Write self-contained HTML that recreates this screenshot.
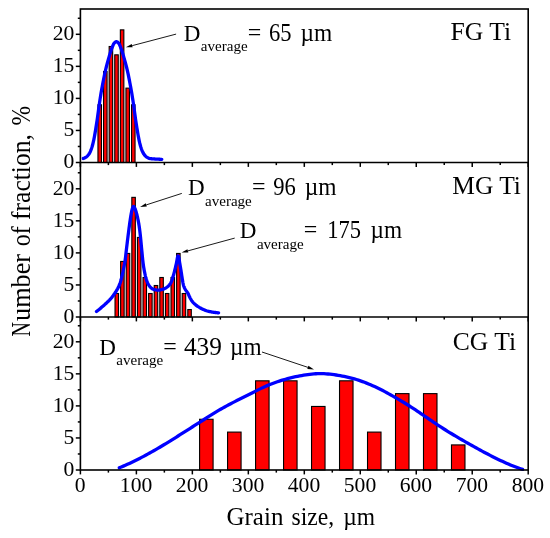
<!DOCTYPE html>
<html lang="en">
<head>
<meta charset="utf-8">
<title>Grain size distribution</title>
<style>html,body{margin:0;padding:0;background:#fff}svg text{white-space:pre}</style>
</head>
<body>
<svg width="550" height="538" viewBox="0 0 550 538" style="display:block">
<rect x="0" y="0" width="550" height="538" fill="#ffffff"/>
<g fill="#ff0000" stroke="#000" stroke-width="1.1">
<rect x="97.96" y="104.78" width="3.50" height="57.72"/>
<rect x="103.56" y="71.48" width="3.50" height="91.02"/>
<rect x="109.16" y="46.50" width="3.50" height="116.00"/>
<rect x="114.75" y="54.83" width="3.50" height="107.67"/>
<rect x="120.35" y="29.86" width="3.50" height="132.64"/>
<rect x="125.95" y="88.13" width="3.50" height="74.37"/>
<rect x="131.55" y="104.78" width="3.50" height="57.72"/>
</g>
<g fill="#ff0000" stroke="#000" stroke-width="1.1">
<rect x="115.03" y="293.51" width="3.50" height="23.49"/>
<rect x="120.63" y="261.46" width="3.50" height="55.54"/>
<rect x="126.23" y="253.45" width="3.50" height="63.55"/>
<rect x="131.83" y="197.36" width="3.50" height="119.64"/>
<rect x="137.42" y="237.43" width="3.50" height="79.58"/>
<rect x="143.02" y="277.49" width="3.50" height="39.51"/>
<rect x="148.62" y="293.51" width="3.50" height="23.49"/>
<rect x="154.22" y="285.50" width="3.50" height="31.50"/>
<rect x="159.81" y="277.49" width="3.50" height="39.51"/>
<rect x="165.41" y="293.51" width="3.50" height="23.49"/>
<rect x="171.01" y="277.49" width="3.50" height="39.51"/>
<rect x="176.61" y="253.45" width="3.50" height="63.55"/>
<rect x="182.20" y="293.51" width="3.50" height="23.49"/>
<rect x="187.80" y="309.54" width="3.50" height="7.46"/>
</g>
<g fill="#ff0000" stroke="#000" stroke-width="1.1">
<rect x="199.59" y="419.27" width="13.50" height="50.73"/>
<rect x="227.58" y="432.09" width="13.50" height="37.91"/>
<rect x="255.57" y="380.81" width="13.50" height="89.19"/>
<rect x="283.56" y="380.81" width="13.50" height="89.19"/>
<rect x="311.54" y="406.45" width="13.50" height="63.55"/>
<rect x="339.53" y="380.81" width="13.50" height="89.19"/>
<rect x="367.52" y="432.09" width="13.50" height="37.91"/>
<rect x="395.51" y="393.63" width="13.50" height="76.37"/>
<rect x="423.49" y="393.63" width="13.50" height="76.37"/>
<rect x="451.48" y="444.91" width="13.50" height="25.09"/>
</g>
<path d="M83.30,158.44 L83.69,158.32 L84.09,158.16 L84.48,157.98 L84.88,157.78 L85.27,157.56 L85.67,157.32 L86.06,157.08 L86.46,156.79 L86.85,156.47 L87.24,156.11 L87.64,155.71 L88.03,155.27 L88.43,154.79 L88.82,154.27 L89.22,153.69 L89.61,153.00 L90.01,152.21 L90.40,151.33 L90.79,150.39 L91.19,149.39 L91.58,148.29 L91.98,147.06 L92.37,145.71 L92.77,144.25 L93.16,142.70 L93.56,140.97 L93.95,139.07 L94.35,137.04 L94.74,134.90 L95.13,132.60 L95.53,130.19 L95.92,127.74 L96.32,125.28 L96.71,122.76 L97.11,120.15 L97.50,117.40 L97.90,114.55 L98.29,111.66 L98.68,108.82 L99.08,106.07 L99.47,103.31 L99.87,100.60 L100.26,97.97 L100.66,95.46 L101.05,93.10 L101.45,90.83 L101.84,88.65 L102.23,86.52 L102.63,84.43 L103.02,82.35 L103.42,80.28 L103.81,78.24 L104.21,76.24 L104.60,74.32 L105.00,72.48 L105.39,70.75 L105.78,69.09 L106.18,67.49 L106.57,65.94 L106.97,64.43 L107.36,62.96 L107.76,61.53 L108.15,60.13 L108.55,58.74 L108.94,57.35 L109.34,55.99 L109.73,54.66 L110.12,53.35 L110.52,52.10 L110.91,50.89 L111.31,49.74 L111.70,48.66 L112.10,47.62 L112.49,46.57 L112.89,45.55 L113.28,44.64 L113.67,43.87 L114.07,43.31 L114.46,42.89 L114.86,42.51 L115.25,42.17 L115.65,41.90 L116.04,41.73 L116.44,41.67 L116.83,41.75 L117.22,41.94 L117.62,42.22 L118.01,42.57 L118.41,42.97 L118.80,43.39 L119.20,43.99 L119.59,44.79 L119.99,45.73 L120.38,46.76 L120.77,47.81 L121.17,48.85 L121.56,49.94 L121.96,51.10 L122.35,52.32 L122.75,53.59 L123.14,54.90 L123.54,56.24 L123.93,57.60 L124.33,58.99 L124.72,60.38 L125.11,61.79 L125.51,63.23 L125.90,64.70 L126.30,66.21 L126.69,67.77 L127.09,69.39 L127.48,71.06 L127.88,72.81 L128.27,74.66 L128.66,76.60 L129.06,78.60 L129.45,80.65 L129.85,82.73 L130.24,84.81 L130.64,86.90 L131.03,89.04 L131.43,91.24 L131.82,93.52 L132.21,95.90 L132.61,98.43 L133.00,101.08 L133.40,103.81 L133.79,106.57 L134.19,109.33 L134.58,112.18 L134.98,115.07 L135.37,117.91 L135.76,120.63 L136.16,123.22 L136.55,125.73 L136.95,128.18 L137.34,130.63 L137.74,133.03 L138.13,135.30 L138.53,137.41 L138.92,139.42 L139.32,141.30 L139.71,142.99 L140.10,144.52 L140.50,145.96 L140.89,147.29 L141.29,148.50 L141.68,149.57 L142.08,150.56 L142.47,151.50 L142.87,152.36 L143.26,153.13 L143.65,153.80 L144.05,154.37 L144.44,154.88 L144.84,155.35 L145.23,155.78 L145.63,156.18 L146.02,156.53 L146.42,156.85 L146.81,157.12 L147.20,157.37 L147.60,157.60 L147.99,157.82 L148.39,158.02 L148.78,158.19 L149.18,158.34 L149.57,158.46 L149.97,158.54 L150.36,158.60 L150.75,158.66 L151.15,158.71 L151.54,158.75 L151.94,158.79 L152.33,158.83 L152.73,158.86 L153.12,158.89 L153.52,158.92 L153.91,158.94 L154.31,158.97 L154.70,158.99 L155.09,159.02 L155.49,159.04 L155.88,159.07 L156.28,159.09 L156.67,159.11 L157.07,159.13 L157.46,159.15 L157.86,159.17 L158.25,159.19 L158.64,159.21 L159.04,159.23 L159.43,159.24 L159.83,159.25 L160.22,159.27 L160.62,159.28 L161.01,159.28 L161.41,159.29 L161.80,159.29" fill="none" stroke="#0000ff" stroke-width="3.3" stroke-linecap="round" stroke-linejoin="round"/>
<path d="M96.50,311.50 L97.15,310.99 L97.79,310.48 L98.44,309.96 L99.08,309.45 L99.71,308.92 L100.34,308.40 L100.98,307.87 L101.60,307.34 L102.23,306.80 L102.85,306.26 L103.47,305.72 L104.09,305.18 L104.70,304.63 L105.31,304.07 L105.92,303.51 L106.52,302.96 L107.13,302.39 L107.73,301.83 L108.33,301.26 L108.91,300.68 L109.49,300.09 L110.05,299.49 L110.59,298.88 L111.13,298.25 L111.65,297.62 L112.16,296.97 L112.66,296.32 L113.16,295.65 L113.64,294.98 L114.12,294.31 L114.58,293.63 L115.04,292.95 L115.49,292.26 L115.94,291.57 L116.38,290.87 L116.81,290.16 L117.23,289.45 L117.63,288.73 L118.00,288.00 L118.36,287.26 L118.71,286.52 L119.04,285.77 L119.36,285.00 L119.67,284.24 L119.97,283.46 L120.25,282.69 L120.50,281.91 L120.74,281.12 L120.97,280.34 L121.18,279.54 L121.38,278.74 L121.58,277.94 L121.76,277.14 L121.95,276.33 L122.13,275.53 L122.31,274.72 L122.49,273.92 L122.66,273.11 L122.84,272.31 L123.01,271.50 L123.18,270.70 L123.35,269.89 L123.51,269.09 L123.67,268.28 L123.83,267.47 L123.98,266.66 L124.14,265.85 L124.30,265.04 L124.45,264.23 L124.60,263.42 L124.75,262.61 L124.89,261.80 L125.02,260.99 L125.14,260.18 L125.26,259.36 L125.37,258.55 L125.48,257.73 L125.58,256.91 L125.67,256.10 L125.76,255.28 L125.85,254.46 L125.94,253.64 L126.04,252.82 L126.13,252.00 L126.22,251.18 L126.32,250.37 L126.41,249.55 L126.51,248.73 L126.61,247.91 L126.70,247.10 L126.80,246.28 L126.90,245.46 L127.00,244.64 L127.10,243.83 L127.19,243.01 L127.29,242.19 L127.39,241.37 L127.49,240.56 L127.59,239.74 L127.69,238.92 L127.80,238.11 L127.90,237.29 L128.00,236.47 L128.10,235.65 L128.21,234.84 L128.31,234.02 L128.42,233.20 L128.52,232.39 L128.63,231.57 L128.73,230.75 L128.84,229.94 L128.94,229.12 L129.05,228.30 L129.15,227.49 L129.26,226.67 L129.37,225.86 L129.48,225.04 L129.59,224.22 L129.70,223.41 L129.81,222.59 L129.93,221.78 L130.05,220.96 L130.17,220.15 L130.29,219.33 L130.41,218.52 L130.54,217.70 L130.67,216.89 L130.80,216.08 L130.94,215.27 L131.08,214.46 L131.23,213.65 L131.39,212.84 L131.54,212.02 L131.70,211.20 L131.88,210.39 L132.07,209.59 L132.30,208.80 L132.56,208.04 L132.94,207.12 L133.40,206.45 L133.88,206.61 L134.39,207.40 L134.80,208.20 L135.13,208.95 L135.43,209.72 L135.69,210.51 L135.94,211.30 L136.18,212.09 L136.40,212.88 L136.62,213.67 L136.83,214.47 L137.04,215.27 L137.23,216.07 L137.42,216.87 L137.60,217.68 L137.77,218.48 L137.94,219.29 L138.10,220.10 L138.26,220.90 L138.41,221.71 L138.56,222.52 L138.70,223.33 L138.84,224.15 L138.97,224.96 L139.10,225.77 L139.22,226.59 L139.34,227.40 L139.46,228.22 L139.57,229.03 L139.68,229.85 L139.78,230.66 L139.88,231.48 L139.98,232.30 L140.07,233.12 L140.17,233.94 L140.26,234.75 L140.34,235.57 L140.43,236.39 L140.52,237.21 L140.60,238.03 L140.69,238.85 L140.77,239.67 L140.85,240.49 L140.93,241.31 L141.01,242.13 L141.08,242.95 L141.16,243.77 L141.23,244.59 L141.31,245.41 L141.39,246.23 L141.46,247.05 L141.54,247.87 L141.62,248.69 L141.70,249.51 L141.78,250.32 L141.86,251.14 L141.94,251.96 L142.02,252.78 L142.10,253.60 L142.18,254.42 L142.26,255.24 L142.34,256.06 L142.42,256.88 L142.50,257.70 L142.58,258.52 L142.67,259.34 L142.76,260.16 L142.85,260.98 L142.95,261.79 L143.05,262.61 L143.15,263.43 L143.26,264.24 L143.37,265.06 L143.49,265.87 L143.61,266.69 L143.74,267.50 L143.88,268.32 L144.02,269.13 L144.16,269.94 L144.31,270.75 L144.47,271.56 L144.63,272.36 L144.80,273.17 L144.97,273.97 L145.15,274.78 L145.33,275.59 L145.53,276.40 L145.73,277.20 L145.95,278.00 L146.17,278.80 L146.41,279.58 L146.67,280.35 L146.94,281.12 L147.24,281.88 L147.57,282.66 L147.92,283.43 L148.31,284.19 L148.72,284.92 L149.16,285.61 L149.62,286.26 L150.12,286.86 L150.69,287.46 L151.33,288.05 L152.01,288.59 L152.73,289.04 L153.45,289.36 L154.20,289.56 L155.00,289.74 L155.82,289.90 L156.66,290.02 L157.50,290.09 L158.32,290.09 L159.14,290.04 L159.96,289.92 L160.79,289.76 L161.60,289.57 L162.40,289.36 L163.18,289.14 L163.94,288.88 L164.70,288.55 L165.44,288.16 L166.17,287.72 L166.86,287.24 L167.51,286.75 L168.12,286.24 L168.72,285.67 L169.30,285.05 L169.84,284.40 L170.32,283.72 L170.74,283.04 L171.09,282.33 L171.42,281.58 L171.72,280.82 L172.00,280.03 L172.27,279.23 L172.52,278.43 L172.76,277.64 L173.01,276.85 L173.24,276.06 L173.47,275.27 L173.69,274.48 L173.90,273.68 L174.11,272.88 L174.31,272.09 L174.51,271.29 L174.71,270.49 L174.90,269.69 L175.10,268.89 L175.29,268.09 L175.49,267.29 L175.68,266.48 L175.86,265.68 L176.04,264.88 L176.22,264.07 L176.40,263.27 L176.57,262.46 L176.72,261.66 L176.86,260.84 L177.00,260.03 L177.14,259.21 L177.29,258.41 L177.47,257.61 L177.71,256.66 L178.00,255.87 L178.32,256.06 L178.66,256.99 L178.88,257.85 L179.05,258.65 L179.19,259.46 L179.30,260.28 L179.42,261.10 L179.54,261.92 L179.67,262.73 L179.81,263.54 L179.95,264.36 L180.09,265.17 L180.23,265.98 L180.36,266.79 L180.50,267.60 L180.64,268.41 L180.78,269.23 L180.91,270.04 L181.04,270.85 L181.17,271.66 L181.30,272.48 L181.42,273.29 L181.54,274.11 L181.66,274.92 L181.78,275.74 L181.90,276.55 L182.03,277.36 L182.16,278.18 L182.30,278.99 L182.44,279.80 L182.57,280.62 L182.71,281.44 L182.85,282.25 L183.00,283.07 L183.17,283.87 L183.35,284.67 L183.56,285.46 L183.80,286.23 L184.10,287.00 L184.44,287.76 L184.81,288.50 L185.20,289.23 L185.60,289.94 L186.05,290.63 L186.54,291.30 L187.04,291.96 L187.52,292.63 L187.96,293.33 L188.33,294.05 L188.67,294.80 L188.99,295.56 L189.31,296.33 L189.64,297.08 L190.01,297.82 L190.40,298.54 L190.82,299.26 L191.25,299.97 L191.70,300.67 L192.18,301.34 L192.68,301.98 L193.21,302.58 L193.79,303.17 L194.39,303.74 L195.02,304.29 L195.66,304.83 L196.31,305.33 L196.97,305.82 L197.63,306.29 L198.32,306.75 L199.02,307.20 L199.73,307.63 L200.45,308.04 L201.17,308.44 L201.91,308.81 L202.64,309.16 L203.39,309.50 L204.15,309.84 L204.91,310.16 L205.69,310.45 L206.46,310.73 L207.25,310.97 L208.04,311.19 L208.83,311.38 L209.64,311.56 L210.44,311.72 L211.26,311.87 L212.07,312.02 L212.89,312.15 L213.70,312.28 L214.51,312.40 L215.33,312.51 L216.14,312.62 L216.96,312.72 L217.78,312.82 L218.60,312.90" fill="none" stroke="#0000ff" stroke-width="3.3" stroke-linecap="round" stroke-linejoin="round"/>
<path d="M119.30,467.80 L121.33,466.97 L123.35,466.11 L125.38,465.24 L127.41,464.33 L129.43,463.41 L131.46,462.46 L133.49,461.49 L135.51,460.50 L137.54,459.49 L139.57,458.46 L141.59,457.41 L143.62,456.34 L145.65,455.25 L147.67,454.15 L149.70,453.03 L151.73,451.90 L153.75,450.75 L155.78,449.58 L157.81,448.40 L159.83,447.21 L161.86,446.00 L163.89,444.79 L165.91,443.56 L167.94,442.32 L169.97,441.07 L171.99,439.81 L174.02,438.55 L176.05,437.28 L178.07,436.00 L180.10,434.72 L182.13,433.44 L184.15,432.15 L186.18,430.86 L188.21,429.57 L190.23,428.28 L192.26,426.99 L194.29,425.70 L196.31,424.40 L198.34,423.11 L200.37,421.83 L202.39,420.54 L204.42,419.25 L206.45,417.97 L208.47,416.69 L210.50,415.42 L212.53,414.16 L214.55,412.91 L216.58,411.68 L218.61,410.46 L220.63,409.27 L222.66,408.10 L224.68,406.95 L226.71,405.84 L228.74,404.74 L230.76,403.68 L232.79,402.63 L234.82,401.60 L236.84,400.57 L238.87,399.56 L240.90,398.55 L242.92,397.54 L244.95,396.53 L246.98,395.51 L249.00,394.48 L251.03,393.45 L253.06,392.41 L255.08,391.39 L257.11,390.37 L259.14,389.37 L261.16,388.39 L263.19,387.44 L265.22,386.51 L267.24,385.62 L269.27,384.77 L271.30,383.96 L273.32,383.19 L275.35,382.45 L277.38,381.74 L279.40,381.07 L281.43,380.43 L283.46,379.82 L285.48,379.24 L287.51,378.68 L289.54,378.15 L291.56,377.65 L293.59,377.17 L295.62,376.72 L297.64,376.29 L299.67,375.90 L301.70,375.52 L303.72,375.18 L305.75,374.86 L307.78,374.57 L309.80,374.31 L311.83,374.08 L313.86,373.89 L315.88,373.74 L317.91,373.64 L319.94,373.59 L321.96,373.61 L323.99,373.68 L326.02,373.81 L328.04,373.99 L330.07,374.20 L332.10,374.44 L334.12,374.71 L336.15,375.00 L338.18,375.31 L340.20,375.65 L342.23,376.02 L344.26,376.42 L346.28,376.85 L348.31,377.32 L350.34,377.82 L352.36,378.35 L354.39,378.92 L356.42,379.53 L358.44,380.17 L360.47,380.85 L362.50,381.57 L364.52,382.32 L366.55,383.10 L368.58,383.92 L370.60,384.78 L372.63,385.67 L374.66,386.59 L376.68,387.55 L378.71,388.53 L380.74,389.54 L382.76,390.58 L384.79,391.65 L386.82,392.73 L388.84,393.84 L390.87,394.96 L392.90,396.10 L394.92,397.25 L396.95,398.42 L398.98,399.60 L401.00,400.80 L403.03,402.02 L405.06,403.25 L407.08,404.50 L409.11,405.76 L411.14,407.05 L413.16,408.36 L415.19,409.69 L417.22,411.04 L419.24,412.40 L421.27,413.78 L423.29,415.17 L425.32,416.56 L427.35,417.96 L429.37,419.35 L431.40,420.73 L433.43,422.11 L435.45,423.47 L437.48,424.81 L439.51,426.14 L441.53,427.45 L443.56,428.74 L445.59,430.02 L447.61,431.28 L449.64,432.53 L451.67,433.76 L453.69,434.99 L455.72,436.20 L457.75,437.40 L459.77,438.59 L461.80,439.77 L463.83,440.94 L465.85,442.10 L467.88,443.25 L469.91,444.39 L471.93,445.53 L473.96,446.66 L475.99,447.78 L478.01,448.89 L480.04,450.00 L482.07,451.10 L484.09,452.19 L486.12,453.26 L488.15,454.33 L490.17,455.38 L492.20,456.42 L494.23,457.45 L496.25,458.45 L498.28,459.44 L500.31,460.41 L502.33,461.35 L504.36,462.28 L506.39,463.18 L508.41,464.06 L510.44,464.91 L512.47,465.73 L514.49,466.53 L516.52,467.29 L518.55,468.03 L520.57,468.73 L522.60,469.40" fill="none" stroke="#0000ff" stroke-width="3.3" stroke-linecap="round" stroke-linejoin="round"/>
<g stroke="#000" stroke-width="1.6" fill="none" stroke-linecap="butt">
<rect x="80.4" y="9.0" width="447.80000000000007" height="461.0"/>
<line x1="80.4" y1="162.5" x2="528.2" y2="162.5"/>
<line x1="80.4" y1="317.0" x2="528.2" y2="317.0"/>
</g>
<g stroke="#000" stroke-width="1.5">
<line x1="75.80" y1="162.50" x2="80.4" y2="162.50"/>
<line x1="77.80" y1="146.47" x2="80.4" y2="146.47"/>
<line x1="75.80" y1="130.45" x2="80.4" y2="130.45"/>
<line x1="77.80" y1="114.42" x2="80.4" y2="114.42"/>
<line x1="75.80" y1="98.40" x2="80.4" y2="98.40"/>
<line x1="77.80" y1="82.38" x2="80.4" y2="82.38"/>
<line x1="75.80" y1="66.35" x2="80.4" y2="66.35"/>
<line x1="77.80" y1="50.33" x2="80.4" y2="50.33"/>
<line x1="75.80" y1="34.30" x2="80.4" y2="34.30"/>
<line x1="77.80" y1="18.28" x2="80.4" y2="18.28"/>
<line x1="80.40" y1="162.5" x2="80.40" y2="166.90"/>
<line x1="108.39" y1="162.5" x2="108.39" y2="165.10"/>
<line x1="136.38" y1="162.5" x2="136.38" y2="166.90"/>
<line x1="164.36" y1="162.5" x2="164.36" y2="165.10"/>
<line x1="192.35" y1="162.5" x2="192.35" y2="166.90"/>
<line x1="220.34" y1="162.5" x2="220.34" y2="165.10"/>
<line x1="248.33" y1="162.5" x2="248.33" y2="166.90"/>
<line x1="276.31" y1="162.5" x2="276.31" y2="165.10"/>
<line x1="304.30" y1="162.5" x2="304.30" y2="166.90"/>
<line x1="332.29" y1="162.5" x2="332.29" y2="165.10"/>
<line x1="360.28" y1="162.5" x2="360.28" y2="166.90"/>
<line x1="388.26" y1="162.5" x2="388.26" y2="165.10"/>
<line x1="416.25" y1="162.5" x2="416.25" y2="166.90"/>
<line x1="444.24" y1="162.5" x2="444.24" y2="165.10"/>
<line x1="472.23" y1="162.5" x2="472.23" y2="166.90"/>
<line x1="500.21" y1="162.5" x2="500.21" y2="165.10"/>
<line x1="528.20" y1="162.5" x2="528.20" y2="166.90"/>
<line x1="75.80" y1="317.00" x2="80.4" y2="317.00"/>
<line x1="77.80" y1="300.98" x2="80.4" y2="300.98"/>
<line x1="75.80" y1="284.95" x2="80.4" y2="284.95"/>
<line x1="77.80" y1="268.93" x2="80.4" y2="268.93"/>
<line x1="75.80" y1="252.90" x2="80.4" y2="252.90"/>
<line x1="77.80" y1="236.88" x2="80.4" y2="236.88"/>
<line x1="75.80" y1="220.85" x2="80.4" y2="220.85"/>
<line x1="77.80" y1="204.82" x2="80.4" y2="204.82"/>
<line x1="75.80" y1="188.80" x2="80.4" y2="188.80"/>
<line x1="77.80" y1="172.78" x2="80.4" y2="172.78"/>
<line x1="80.40" y1="317.0" x2="80.40" y2="321.40"/>
<line x1="108.39" y1="317.0" x2="108.39" y2="319.60"/>
<line x1="136.38" y1="317.0" x2="136.38" y2="321.40"/>
<line x1="164.36" y1="317.0" x2="164.36" y2="319.60"/>
<line x1="192.35" y1="317.0" x2="192.35" y2="321.40"/>
<line x1="220.34" y1="317.0" x2="220.34" y2="319.60"/>
<line x1="248.33" y1="317.0" x2="248.33" y2="321.40"/>
<line x1="276.31" y1="317.0" x2="276.31" y2="319.60"/>
<line x1="304.30" y1="317.0" x2="304.30" y2="321.40"/>
<line x1="332.29" y1="317.0" x2="332.29" y2="319.60"/>
<line x1="360.28" y1="317.0" x2="360.28" y2="321.40"/>
<line x1="388.26" y1="317.0" x2="388.26" y2="319.60"/>
<line x1="416.25" y1="317.0" x2="416.25" y2="321.40"/>
<line x1="444.24" y1="317.0" x2="444.24" y2="319.60"/>
<line x1="472.23" y1="317.0" x2="472.23" y2="321.40"/>
<line x1="500.21" y1="317.0" x2="500.21" y2="319.60"/>
<line x1="528.20" y1="317.0" x2="528.20" y2="321.40"/>
<line x1="75.80" y1="470.00" x2="80.4" y2="470.00"/>
<line x1="77.80" y1="453.98" x2="80.4" y2="453.98"/>
<line x1="75.80" y1="437.95" x2="80.4" y2="437.95"/>
<line x1="77.80" y1="421.93" x2="80.4" y2="421.93"/>
<line x1="75.80" y1="405.90" x2="80.4" y2="405.90"/>
<line x1="77.80" y1="389.88" x2="80.4" y2="389.88"/>
<line x1="75.80" y1="373.85" x2="80.4" y2="373.85"/>
<line x1="77.80" y1="357.82" x2="80.4" y2="357.82"/>
<line x1="75.80" y1="341.80" x2="80.4" y2="341.80"/>
<line x1="77.80" y1="325.77" x2="80.4" y2="325.77"/>
<line x1="80.40" y1="470.0" x2="80.40" y2="474.40"/>
<line x1="108.39" y1="470.0" x2="108.39" y2="472.60"/>
<line x1="136.38" y1="470.0" x2="136.38" y2="474.40"/>
<line x1="164.36" y1="470.0" x2="164.36" y2="472.60"/>
<line x1="192.35" y1="470.0" x2="192.35" y2="474.40"/>
<line x1="220.34" y1="470.0" x2="220.34" y2="472.60"/>
<line x1="248.33" y1="470.0" x2="248.33" y2="474.40"/>
<line x1="276.31" y1="470.0" x2="276.31" y2="472.60"/>
<line x1="304.30" y1="470.0" x2="304.30" y2="474.40"/>
<line x1="332.29" y1="470.0" x2="332.29" y2="472.60"/>
<line x1="360.28" y1="470.0" x2="360.28" y2="474.40"/>
<line x1="388.26" y1="470.0" x2="388.26" y2="472.60"/>
<line x1="416.25" y1="470.0" x2="416.25" y2="474.40"/>
<line x1="444.24" y1="470.0" x2="444.24" y2="472.60"/>
<line x1="472.23" y1="470.0" x2="472.23" y2="474.40"/>
<line x1="500.21" y1="470.0" x2="500.21" y2="472.60"/>
<line x1="528.20" y1="470.0" x2="528.20" y2="474.40"/>
</g>
<g font-family='"Liberation Serif", "DejaVu Serif", serif' fill="#000">
<g font-size="20.6px" text-anchor="end">
<text transform="translate(74.4,168.30) scale(1.05,1)">0</text>
<text transform="translate(74.4,136.25) scale(1.05,1)">5</text>
<text transform="translate(74.4,104.20) scale(1.05,1)">10</text>
<text transform="translate(74.4,72.15) scale(1.05,1)">15</text>
<text transform="translate(74.4,40.10) scale(1.05,1)">20</text>
<text transform="translate(74.4,322.80) scale(1.05,1)">0</text>
<text transform="translate(74.4,290.75) scale(1.05,1)">5</text>
<text transform="translate(74.4,258.70) scale(1.05,1)">10</text>
<text transform="translate(74.4,226.65) scale(1.05,1)">15</text>
<text transform="translate(74.4,194.60) scale(1.05,1)">20</text>
<text transform="translate(74.4,475.80) scale(1.05,1)">0</text>
<text transform="translate(74.4,443.75) scale(1.05,1)">5</text>
<text transform="translate(74.4,411.70) scale(1.05,1)">10</text>
<text transform="translate(74.4,379.65) scale(1.05,1)">15</text>
<text transform="translate(74.4,347.60) scale(1.05,1)">20</text>
</g>
<g font-size="20.6px" text-anchor="middle">
<text transform="translate(80.10,492.3) scale(1.05,1)">0</text>
<text transform="translate(136.07,492.3) scale(1.05,1)">100</text>
<text transform="translate(192.05,492.3) scale(1.05,1)">200</text>
<text transform="translate(248.03,492.3) scale(1.05,1)">300</text>
<text transform="translate(304.00,492.3) scale(1.05,1)">400</text>
<text transform="translate(359.98,492.3) scale(1.05,1)">500</text>
<text transform="translate(415.95,492.3) scale(1.05,1)">600</text>
<text transform="translate(471.93,492.3) scale(1.05,1)">700</text>
<text transform="translate(527.90,492.3) scale(1.05,1)">800</text>
</g>
<text transform="translate(183.70,40.90) scale(0.9625,1)" font-size="24px">D</text>
<text transform="translate(200.80,51.30) scale(0.9781,1)" font-size="15.4px">average</text>
<text transform="translate(247.70,40.90) scale(0.9783,1)" font-size="24.5px">=</text>
<text transform="translate(269.00,40.90) scale(0.9224,1)" font-size="24.5px">65</text>
<text transform="translate(300.50,40.90) scale(0.9563,1)" font-size="24.5px">µm</text>
<text transform="translate(187.90,195.30) scale(0.9625,1)" font-size="24px">D</text>
<text transform="translate(205.00,205.70) scale(0.9781,1)" font-size="15.4px">average</text>
<text transform="translate(251.90,195.30) scale(0.9783,1)" font-size="24.5px">=</text>
<text transform="translate(273.20,195.30) scale(0.9224,1)" font-size="24.5px">96</text>
<text transform="translate(304.70,195.30) scale(0.9563,1)" font-size="24.5px">µm</text>
<text transform="translate(239.80,238.20) scale(0.9625,1)" font-size="24px">D</text>
<text transform="translate(256.90,248.60) scale(0.9781,1)" font-size="15.4px">average</text>
<text transform="translate(303.80,238.20) scale(0.9783,1)" font-size="24.5px">=</text>
<text transform="translate(327.30,238.20) scale(0.9197,1)" font-size="24.5px">175</text>
<text transform="translate(370.60,238.20) scale(0.9502,1)" font-size="24.5px">µm</text>
<text transform="translate(99.20,354.90) scale(0.9625,1)" font-size="24px">D</text>
<text transform="translate(116.30,365.30) scale(0.9781,1)" font-size="15.4px">average</text>
<text transform="translate(163.20,354.90) scale(0.9783,1)" font-size="24.5px">=</text>
<text transform="translate(183.90,354.90) scale(1.0340,1)" font-size="24.5px">439</text>
<text transform="translate(230.00,354.90) scale(0.9502,1)" font-size="24.5px">µm</text>
<text transform="translate(450.60,40.20) scale(1.0548,1)" font-size="24.3px">FG Ti</text>
<text transform="translate(452.30,193.60) scale(1.0481,1)" font-size="24.3px">MG Ti</text>
<text transform="translate(452.80,349.80) scale(1.0524,1)" font-size="24.3px">CG Ti</text>
<text transform="translate(226.50,525.30) scale(1.0197,1)" font-size="24.5px">Grain</text>
<text transform="translate(291.60,525.30) scale(0.9638,1)" font-size="24.5px">size,</text>
<text transform="translate(343.20,525.30) scale(0.9593,1)" font-size="24.5px">µm</text>
<text transform="translate(30.00,336.60) rotate(-90) scale(1,1.04)" font-size="25.5px"><tspan x="-0.00" textLength="14.41" lengthAdjust="spacingAndGlyphs">N</tspan><tspan x="15.70" textLength="66.89" lengthAdjust="spacingAndGlyphs">umber</tspan></text>
<text transform="translate(30.00,246.20) rotate(-90) scale(0.9365,1.04)" font-size="25.5px">of</text>
<text transform="translate(30.00,220.00) rotate(-90) scale(1.0029,1.04)" font-size="25.5px">fraction,</text>
<text transform="translate(30.00,125.40) rotate(-90) scale(0.9176,1.04)" font-size="25.5px">%</text>
</g>
<line x1="176.10" y1="34.10" x2="132.19" y2="45.65" stroke="#000" stroke-width="0.9"/>
<polygon points="125.90,47.30 131.75,44.00 132.62,47.29" fill="#000"/>
<line x1="181.80" y1="193.40" x2="146.28" y2="204.90" stroke="#000" stroke-width="0.9"/>
<polygon points="140.10,206.90 145.76,203.28 146.81,206.52" fill="#000"/>
<line x1="234.70" y1="238.10" x2="187.87" y2="250.89" stroke="#000" stroke-width="0.9"/>
<polygon points="181.60,252.60 187.42,249.25 188.32,252.53" fill="#000"/>
<line x1="262.00" y1="352.00" x2="307.84" y2="367.34" stroke="#000" stroke-width="0.9"/>
<polygon points="314.00,369.40 307.30,368.95 308.38,365.73" fill="#000"/>
</svg>
</body>
</html>
